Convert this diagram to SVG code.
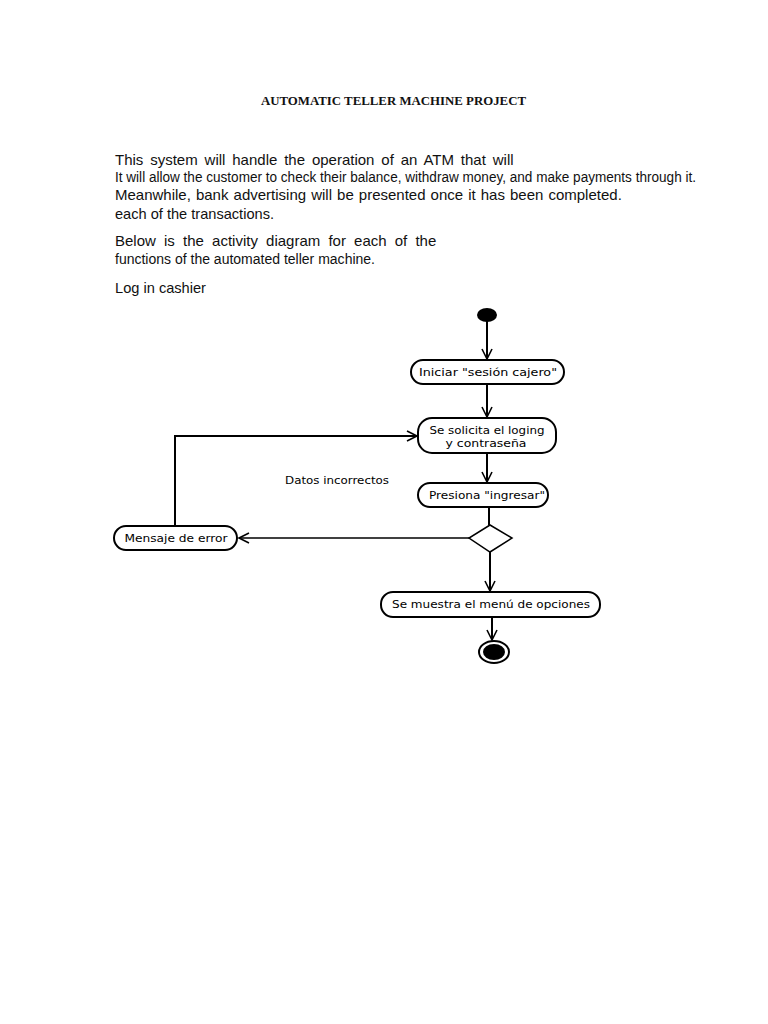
<svg xmlns="http://www.w3.org/2000/svg" width="768" height="1024" viewBox="0 0 768 1024">
<style>
.body{font-family:"Liberation Sans",Arial,sans-serif;font-size:15px;fill:#111}
.narrow{font-family:"Liberation Sans",Arial,sans-serif;font-size:14px;fill:#111}
.title{font-family:"Liberation Serif","Times New Roman",serif;font-size:12px;font-weight:bold;fill:#111}
.node{fill:#fff;stroke:#000;stroke-width:2}
.lbl{font-family:"DejaVu Sans",Verdana,sans-serif;font-size:10.5px;fill:#000;text-anchor:middle}
.edge{fill:none;stroke:#000;stroke-width:2}
.thin{fill:none;stroke:#000;stroke-width:1.3}
</style>
<defs>
<marker id="arr" markerWidth="14" markerHeight="14" refX="11" refY="6" orient="auto" markerUnits="userSpaceOnUse">
<path d="M1,1 L11,6 L1,11" fill="none" stroke="#000" stroke-width="1.6"/>
</marker>
</defs>
<rect width="768" height="1024" fill="#fff"/>
<text class="title" x="261" y="105" textLength="265" lengthAdjust="spacingAndGlyphs">AUTOMATIC TELLER MACHINE PROJECT</text>
<text class="body" x="115" y="165" word-spacing="2.7">This system will handle the operation of an ATM that will</text>
<text class="narrow" x="115" y="182" textLength="581" lengthAdjust="spacingAndGlyphs">It will allow the customer to check their balance, withdraw money, and make payments through it.</text>
<text class="body" x="115" y="200" word-spacing="0.9">Meanwhile, bank advertising will be presented once it has been completed.</text>
<text class="body" x="115" y="219" textLength="159" lengthAdjust="spacingAndGlyphs">each of the transactions.</text>
<text class="body" x="115" y="246" word-spacing="4">Below is the activity diagram for each of the</text>
<text class="narrow" x="115" y="264" textLength="260" lengthAdjust="spacingAndGlyphs">functions of the automated teller machine.</text>
<text class="body" x="115" y="293" textLength="91" lengthAdjust="spacingAndGlyphs">Log in cashier</text>

<g id="connectors">
<line class="edge" x1="487" y1="321" x2="487" y2="359" marker-end="url(#arr)"/>
<line class="edge" x1="487" y1="384" x2="487" y2="417" marker-end="url(#arr)"/>
<line class="edge" x1="487" y1="453" x2="487" y2="482" marker-end="url(#arr)"/>
<line class="edge" x1="489" y1="507" x2="489" y2="525"/>
<line class="thin" x1="469" y1="538" x2="239" y2="538" marker-end="url(#arr)"/>
<polyline class="edge" points="175,526 175,436 417,436" marker-end="url(#arr)"/>
<line class="edge" x1="490" y1="552" x2="490" y2="591" marker-end="url(#arr)"/>
<line class="edge" x1="492" y1="617" x2="492" y2="640" marker-end="url(#arr)"/>
<text class="lbl" x="337" y="484" textLength="104" lengthAdjust="spacingAndGlyphs">Datos incorrectos</text>
</g>

<g id="start">
<ellipse cx="487" cy="315" rx="10" ry="7" fill="#000"/>
</g>
<g id="iniciar">
<rect class="node" x="411" y="360" width="153" height="24" rx="12"/>
<text class="lbl" x="488" y="376" textLength="138" lengthAdjust="spacingAndGlyphs">Iniciar "sesión cajero"</text>
</g>
<g id="solicita">
<rect class="node" x="418" y="418" width="138" height="35" rx="14"/>
<text class="lbl" x="487" y="434" textLength="115" lengthAdjust="spacingAndGlyphs">Se solicita el loging</text>
<text class="lbl" x="486" y="447" textLength="81" lengthAdjust="spacingAndGlyphs">y contraseña</text>
</g>
<g id="presiona">
<rect class="node" x="418" y="483" width="130" height="24" rx="12"/>
<text class="lbl" x="487" y="499" textLength="116" lengthAdjust="spacingAndGlyphs">Presiona "ingresar"</text>
</g>
<g id="decision">
<polygon points="490,525 512,538 490,552 469,538" fill="#fff" stroke="#000" stroke-width="1.5"/>
</g>
<g id="error">
<rect class="node" x="114" y="526" width="123" height="24" rx="12"/>
<text class="lbl" x="176" y="542" textLength="103" lengthAdjust="spacingAndGlyphs">Mensaje de error</text>
</g>
<g id="menu">
<rect class="node" x="381" y="592" width="219" height="25" rx="12"/>
<text class="lbl" x="491" y="608" textLength="198" lengthAdjust="spacingAndGlyphs">Se muestra el menú de opciones</text>
</g>
<g id="end">
<ellipse cx="494" cy="652" rx="15" ry="11" fill="#fff" stroke="#000" stroke-width="2"/>
<ellipse cx="494" cy="652" rx="11" ry="8" fill="#000"/>
</g>
</svg>
